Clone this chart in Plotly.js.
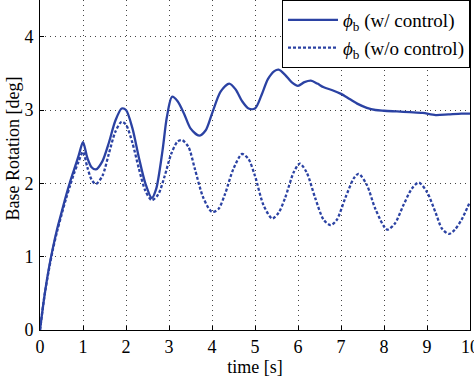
<!DOCTYPE html>
<html>
<head>
<meta charset="utf-8">
<script src="https://cdn.plot.ly/plotly-3.0.1.min.js"></script>
<style>html,body{margin:0;padding:0;background:#fff}#chart{width:474px;height:386px}</style>
</head>
<body>
<div id="chart"></div>
<script>
const timeWith = [0,0.1,0.2,0.3,0.4,0.5,0.6,0.7,0.8,0.9,1.0,1.1,1.2,1.3,1.45,1.6,1.75,1.9,2.0,2.15,2.3,2.45,2.6,2.7,2.85,2.95,3.07,3.2,3.35,3.5,3.7,3.85,4.0,4.2,4.4,4.55,4.7,4.85,5.0,5.15,5.3,5.45,5.55,5.7,5.85,6.0,6.15,6.3,6.45,6.6,6.8,7.0,7.2,7.4,7.6,7.8,8.0,8.3,8.6,8.9,9.2,9.5,9.8,10];
const phiWith = [0,0.45,0.82,1.12,1.38,1.6,1.82,2.02,2.2,2.38,2.56,2.35,2.22,2.19,2.3,2.55,2.85,3.02,3.0,2.75,2.35,2.0,1.8,1.92,2.45,2.9,3.18,3.12,2.95,2.75,2.65,2.72,2.95,3.25,3.36,3.28,3.12,3.02,3.02,3.2,3.42,3.53,3.55,3.48,3.38,3.33,3.38,3.40,3.36,3.31,3.27,3.22,3.15,3.08,3.03,3.0,2.99,2.98,2.97,2.96,2.93,2.94,2.95,2.95];
const timeWithout = [0,0.1,0.2,0.3,0.4,0.5,0.6,0.7,0.8,0.9,1.0,1.1,1.2,1.3,1.45,1.6,1.75,1.9,2.0,2.15,2.3,2.45,2.6,2.75,2.9,3.05,3.2,3.3,3.45,3.6,3.8,4.0,4.15,4.3,4.5,4.7,4.85,5.0,5.2,5.4,5.55,5.7,5.9,6.04,6.2,6.4,6.6,6.76,6.9,7.1,7.3,7.41,7.6,7.8,8.07,8.25,8.45,8.65,8.81,9.0,9.2,9.35,9.51,9.65,9.8,10];
const phiWithout = [0,0.45,0.8,1.1,1.35,1.57,1.78,1.97,2.15,2.3,2.43,2.22,2.05,1.99,2.1,2.4,2.7,2.84,2.8,2.55,2.2,1.9,1.77,1.85,2.1,2.4,2.57,2.59,2.5,2.2,1.8,1.61,1.65,1.85,2.2,2.4,2.33,2.1,1.7,1.52,1.6,1.8,2.15,2.27,2.15,1.8,1.5,1.43,1.5,1.8,2.07,2.13,1.98,1.65,1.37,1.45,1.7,1.93,2.01,1.88,1.6,1.38,1.31,1.37,1.5,1.75];
const seriesNames = ['<i>ϕ</i><sub>b</sub> (w/ control)', '<i>ϕ</i><sub>b</sub> (w/o control)'];
const xTicks = [0,1,2,3,4,5,6,7,8,9,10];
const yTicks = [0,1,2,3,4];

const col = '#2b42a3';
const traces = [
  {x: timeWith, y: phiWith, name: seriesNames[0], mode: 'lines', line: {color: col, width: 2.3, shape: 'spline', smoothing: 0.8}},
  {x: timeWithout, y: phiWithout, name: seriesNames[1], mode: 'lines', line: {color: col, width: 2.3, dash: '3px,2px', shape: 'spline', smoothing: 0.8}}
];
const font = {family: 'Liberation Serif, Times New Roman, serif', size: 18, color: '#000'};
const axisCommon = {
  showline: true, mirror: true, linecolor: '#000', linewidth: 1,
  ticks: 'inside', ticklen: 4, tickcolor: '#000',
  showgrid: true, gridcolor: '#444', griddash: '1px,4px', gridwidth: 1,
  zeroline: false, tickfont: font, automargin: false
};
const layout = {
  width: 474, height: 386,
  margin: {l: 40, r: 4, t: 0, b: 56},
  paper_bgcolor: '#fff', plot_bgcolor: '#fff',
  font: font,
  showlegend: true,
  legend: {x: 1, xanchor: 'right', y: 1, yanchor: 'top', bgcolor: '#fff', bordercolor: '#000', borderwidth: 1, font: {family: font.family, size: 19, color: '#000'}, itemwidth: 50, tracegroupgap: 0},
  xaxis: Object.assign({}, axisCommon, {range: [0, 10], tickvals: xTicks, ticktext: xTicks.map(String), ticklabeloverflow: 'allow', title: {text: 'time [s]', font: font, standoff: 4}}),
  yaxis: Object.assign({}, axisCommon, {range: [0, 4.5], tickvals: yTicks, ticktext: yTicks.map(String), ticklabelstandoff: 2}),
  annotations: [{
    text: 'Base Rotation [deg]', textangle: -90, xref: 'paper', yref: 'paper',
    x: 0, xshift: -27, xanchor: 'center', y: 0.55, yanchor: 'middle', showarrow: false,
    font: font
  }]
};
Plotly.newPlot('chart', traces, layout, {displayModeBar: false, staticPlot: true});
</script>
</body>
</html>
